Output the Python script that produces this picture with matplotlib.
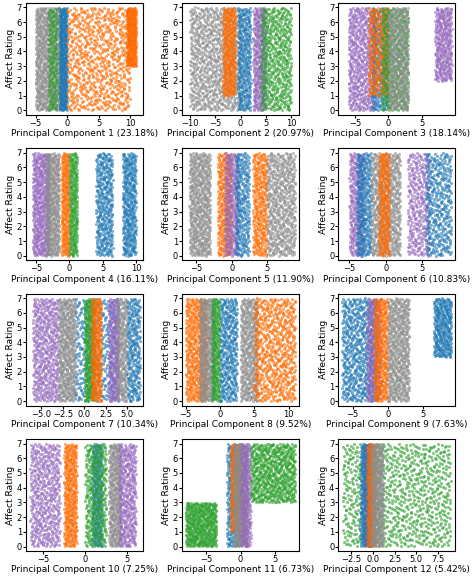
import numpy as np
import matplotlib
matplotlib.use("Agg")
import matplotlib.pyplot as plt

B, O, G, P, Y = "#1f77b4", "#ff6a00", "#2ca02c", "#9467bd", "#8c8c8c"

variance = [23.18, 20.97, 18.14, 16.11, 11.90, 10.83, 10.34, 9.52, 7.63, 7.25, 6.73, 5.42]
xlims = [(-6.5, 12), (-11.5, 11.5), (-7.5, 10), (-6.5, 11), (-7, 9.5), (-6.5, 9.5),
         (-6.8, 6.8), (-5.5, 11.5), (-7, 9.5), (-7, 6.8), (-8.5, 8.5), (-4, 9.5)]
xticks = [[-5, 0, 5, 10], [-10, -5, 0, 5, 10], [-5, 0, 5], [-5, 0, 5, 10], [-5, 0, 5], [-5, 0, 5],
          [-5.0, -2.5, 0.0, 2.5, 5.0], [-5, 0, 5, 10], [-5, 0, 5], [-5, 0, 5], [-5, 0, 5],
          [-2.5, 0.0, 2.5, 5.0, 7.5]]
# cluster descriptors per panel: (colour, x_left, x_right, y_low, y_high, count)
clusters = [
    [(Y, -5, -1, 0, 7, 700), (G, -3, -1.5, 0, 7, 150), (B, -1.2, 0, 0, 7, 400), (O, 0, 10, 0, 7, 700), (O, 9.5, 11, 3, 7, 300)],
    [(Y, -10, 0, 0, 7, 800), (O, -3.5, -1, 1, 7, 300), (B, -0.5, 2, 0, 7, 300), (P, 2.5, 5, 0, 7, 350), (G, 4, 10, 0, 7, 500)],
    [(P, -6, -2, 0, 7, 500), (B, -2.5, 0, 0, 7, 300), (O, -3, 0, 1, 7, 300), (G, -1, 3, 0, 7, 400), (Y, 0, 3, 0, 7, 400), (P, 7, 9.5, 2, 7, 300)],
    [(P, -5.5, -3, 0, 7, 450), (Y, -3.5, -1.5, 0, 7, 400), (O, -1.2, 0, 0, 7, 250), (G, 0, 1.2, 0, 7, 250), (B, 4, 6.5, 0, 7, 350), (B, 8, 10, 0, 7, 350)],
    [(Y, -6, -3, 0, 7, 500), (O, -2, 0, 0, 7, 300), (P, -1, 1, 0, 7, 300), (B, 0.5, 2.5, 0, 7, 250), (O, 3, 5, 0, 7, 300), (Y, 5, 9, 0, 7, 500)],
    [(P, -5, -3, 0, 7, 300), (B, -4, -2, 0, 7, 300), (Y, -2, 2, 0, 7, 600), (O, -1, 0.5, 0, 7, 250), (P, 3, 6, 0, 7, 300), (B, 5.5, 9, 0, 7, 350)],
    [(P, -6, -3, 0, 7, 450), (Y, -3, -1, 0, 7, 450), (B, -1, 4, 0, 7, 400), (G, 0, 1.2, 0, 7, 300), (O, 0.8, 2, 0, 7, 300), (P, 2.8, 4, 0, 7, 250), (Y, 3.8, 5, 0, 7, 250), (B, 5, 6.5, 0, 7, 250)],
    [(O, -5, -2, 0, 7, 450), (Y, -3, -0.8, 0, 7, 450), (G, -1.2, 0, 0, 7, 250), (B, 0, 2.5, 0, 7, 350), (Y, 3, 5.5, 0, 7, 400), (O, 5, 11, 0, 7, 600)],
    [(B, -6.5, -1.5, 0, 7, 600), (P, -3, -1, 0, 7, 300), (O, -2, 0, 0, 7, 350), (Y, 0, 3, 0, 7, 500), (B, 6.5, 9, 3, 7, 300)],
    [(P, -6.5, -3, 0, 7, 450), (O, -2.5, -1, 0, 7, 350), (B, 0.8, 2, 0, 7, 250), (G, 0, 2.5, 0, 7, 350), (Y, 2.8, 4.2, 0, 7, 350), (P, 4, 6, 0, 7, 350)],
    [(G, -8, -3.5, 0, 3, 450), (B, -2, 0, 0, 7, 300), (O, -1.5, 0, 1, 7, 250), (Y, -1, 1, 0, 7, 500), (P, 0, 1.5, 0, 7, 250), (G, 1.5, 8, 3, 7, 600)],
    [(G, -3.5, 9, 0, 7, 900), (P, -1.2, 0, 0, 7, 300), (B, -1.5, -0.3, 0, 7, 250), (O, -0.7, 0.3, 0, 7, 250), (Y, -0.2, 1.2, 0, 7, 400)],
]


def vdc(n, base):
    out = np.zeros(n)
    for i in range(n):
        f, k, v = 1.0, i + 1, 0.0
        while k:
            f /= base
            v += f * (k % base)
            k //= base
        out[i] = v
    return out


plt.rcParams['font.family'] = 'DejaVu Sans'
fig, axes = plt.subplots(4, 3, figsize=(4.74, 5.83), dpi=100)
for i, ax in enumerate(axes.flat):
    for j, (c, x0, x1, y0, y1, n) in enumerate(clusters[i]):
        u = vdc(n, 2)
        v = np.roll(vdc(n, 3), j * 7)
        ax.scatter(x0 + (x1 - x0) * u, y0 + (y1 - y0) * v, s=5, c=c, alpha=0.6, lw=0)
    ax.set_xlim(*xlims[i])
    ax.set_ylim(-0.3, 7.3)
    ax.set_xticks(xticks[i])
    ax.set_yticks(range(8))
    ax.tick_params(labelsize=6, length=2, pad=1)
    ax.set_xlabel(f"Principal Component {i+1} ({variance[i]:.2f}%)", fontsize=6.5, labelpad=1)
    ax.set_ylabel("Affect Rating", fontsize=6.6, labelpad=1)
fig.subplots_adjust(left=0.055, right=0.96, bottom=0.055, top=0.995, wspace=0.34, hspace=0.3)
fig.savefig("out.png", dpi=100)
